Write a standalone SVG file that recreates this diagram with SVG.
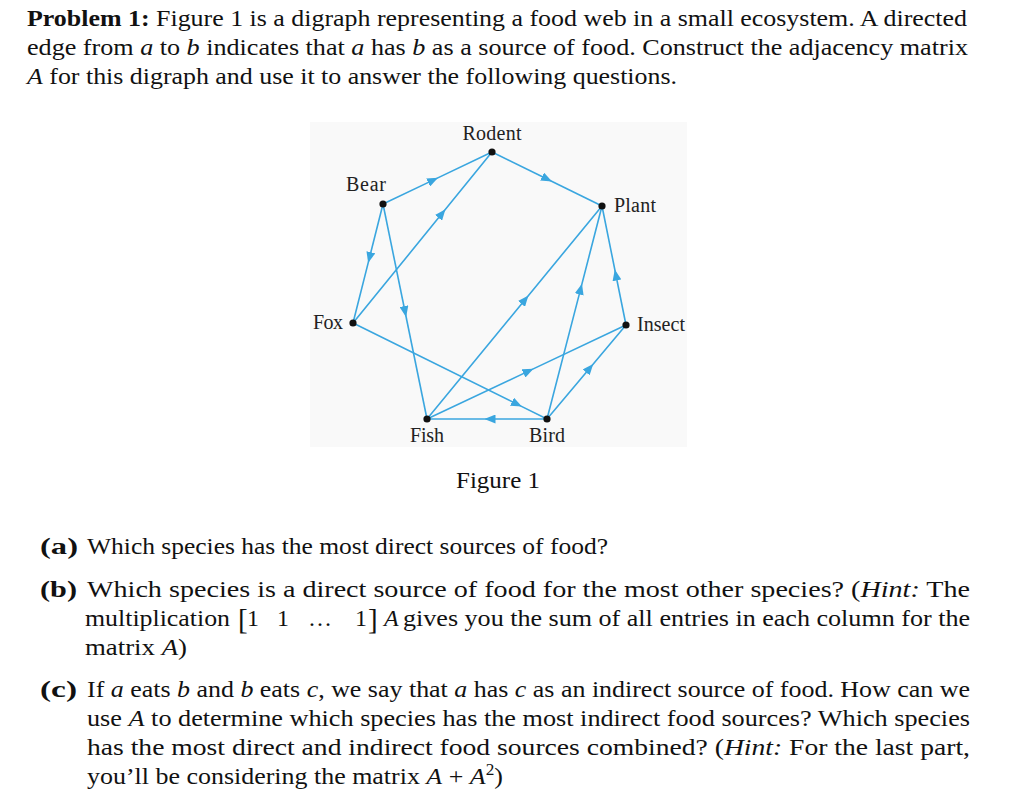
<svg xmlns="http://www.w3.org/2000/svg" width="1024" height="809" viewBox="0 0 1024 809">
<style>
.t{font-family:"Liberation Serif","Times New Roman",serif;font-size:24px;fill:#111}
.b{font-weight:bold}
.i{font-style:italic}
.lbl{font-family:"Liberation Serif","Times New Roman",serif;font-size:20px;fill:#222}
.e{fill:none;stroke:#3aa6df;stroke-width:1.6;marker-mid:url(#ah)}
.n{fill:#111}
</style>
<defs>
<marker id="ah" viewBox="0 0 11 9" refX="5.5" refY="4.5" markerWidth="11" markerHeight="9" markerUnits="userSpaceOnUse" orient="auto">
<path d="M0,0 L11,4.5 L0,9 z" fill="#3aa6df"/>
</marker>
</defs>
<rect width="1024" height="809" fill="#ffffff"/>

<g id="problem-text">
<text class="t" x="27" y="26" textLength="940" lengthAdjust="spacingAndGlyphs"><tspan class="b">Problem 1:</tspan> Figure 1 is a digraph representing a food web in a small ecosystem. A directed</text>
<text class="t" x="27" y="55" textLength="941" lengthAdjust="spacingAndGlyphs">edge from <tspan class="i">a</tspan> to <tspan class="i">b</tspan> indicates that <tspan class="i">a</tspan> has <tspan class="i">b</tspan> as a source of food. Construct the adjacency matrix</text>
<text class="t" x="27" y="84" textLength="650" lengthAdjust="spacingAndGlyphs"><tspan class="i">A</tspan> for this digraph and use it to answer the following questions.</text>
</g>

<g id="figure">
<rect x="310" y="122" width="377" height="325" fill="#f9f9f9"/>
<g id="connectors">
<path class="e" d="M383,204 L433.1,180.1 L492,152"/>
<path class="e" d="M353,323 L442,213.6 L492,152"/>
<path class="e" d="M383,204 L369.5,257.6 L353,323"/>
<path class="e" d="M383,204 L405,311.5 L427,419"/>
<path class="e" d="M492,152 L547,179 L602,206"/>
<path class="e" d="M427,419 L525,299.7 L602,206"/>
<path class="e" d="M547,419 L580.6,289.1 L602,206"/>
<path class="e" d="M626,325 L615.9,275 L602,206"/>
<path class="e" d="M353,323 L516.9,404.1 L547,419"/>
<path class="e" d="M427,419 L528.5,371.1 L626,325"/>
<path class="e" d="M547,419 L589.7,368.2 L626,325"/>
<path class="e" d="M547,419 L490,419 L427,419"/>
</g>
<g id="node-rodent"><circle class="n" cx="492" cy="152" r="3.6"/><text class="lbl" x="492" y="140" text-anchor="middle" textLength="59">Rodent</text></g>
<g id="node-bear"><circle class="n" cx="383" cy="204" r="3.6"/><text class="lbl" x="346" y="191" textLength="40">Bear</text></g>
<g id="node-plant"><circle class="n" cx="602" cy="206" r="3.6"/><text class="lbl" x="614" y="212" textLength="42">Plant</text></g>
<g id="node-fox"><circle class="n" cx="353" cy="323" r="3.6"/><text class="lbl" x="313" y="329" textLength="30">Fox</text></g>
<g id="node-insect"><circle class="n" cx="626" cy="325" r="3.6"/><text class="lbl" x="637" y="331" textLength="48">Insect</text></g>
<g id="node-fish"><circle class="n" cx="427" cy="419" r="3.6"/><text class="lbl" x="410" y="442" textLength="34">Fish</text></g>
<g id="node-bird"><circle class="n" cx="547" cy="419" r="3.6"/><text class="lbl" x="529" y="442" textLength="36">Bird</text></g>
<text class="t" x="456" y="488" textLength="84" lengthAdjust="spacingAndGlyphs">Figure 1</text>
</g>

<g id="questions">
<text class="t b" x="40" y="554" textLength="38" lengthAdjust="spacingAndGlyphs">(a)</text>
<text class="t" x="87" y="554" textLength="521" lengthAdjust="spacingAndGlyphs">Which species has the most direct sources of food?</text>

<text class="t b" x="40" y="597" textLength="37" lengthAdjust="spacingAndGlyphs">(b)</text>
<text class="t" x="87" y="597" textLength="883" lengthAdjust="spacingAndGlyphs">Which species is a direct source of food for the most other species?  (<tspan class="i">Hint:</tspan>  The</text>
<text class="t" x="85" y="626" textLength="145" lengthAdjust="spacingAndGlyphs">multiplication</text>
<text class="t" x="238" y="629" style="font-size:29px">[</text>
<text class="t" x="247" y="626">1</text>
<text class="t" x="277" y="626">1</text>
<text class="t" x="308" y="626" textLength="25" lengthAdjust="spacing">…</text>
<text class="t" x="355" y="626">1</text>
<text class="t" x="368" y="629" style="font-size:29px">]</text>
<text class="t i" x="384" y="626">A</text>
<text class="t" x="403" y="626" textLength="567" lengthAdjust="spacingAndGlyphs">gives you the sum of all entries in each column for the</text>
<text class="t" x="85" y="655" textLength="102" lengthAdjust="spacingAndGlyphs">matrix <tspan class="i">A</tspan>)</text>

<text class="t b" x="40" y="697" textLength="37" lengthAdjust="spacingAndGlyphs">(c)</text>
<text class="t" x="87" y="697" textLength="883" lengthAdjust="spacingAndGlyphs">If <tspan class="i">a</tspan> eats <tspan class="i">b</tspan> and <tspan class="i">b</tspan> eats <tspan class="i">c</tspan>, we say that <tspan class="i">a</tspan> has <tspan class="i">c</tspan> as an indirect source of food. How can we</text>
<text class="t" x="87" y="726" textLength="883" lengthAdjust="spacingAndGlyphs">use <tspan class="i">A</tspan> to determine which species has the most indirect food sources?  Which species</text>
<text class="t" x="87" y="755" textLength="883" lengthAdjust="spacingAndGlyphs">has the most direct and indirect food sources combined?  (<tspan class="i">Hint:</tspan>  For the last part,</text>
<text class="t" x="87" y="784" textLength="416" lengthAdjust="spacingAndGlyphs">you’ll be considering the matrix <tspan class="i">A</tspan> + <tspan class="i">A</tspan><tspan dy="-9" style="font-size:16px">2</tspan><tspan dy="9">)</tspan></text>
</g>
</svg>
